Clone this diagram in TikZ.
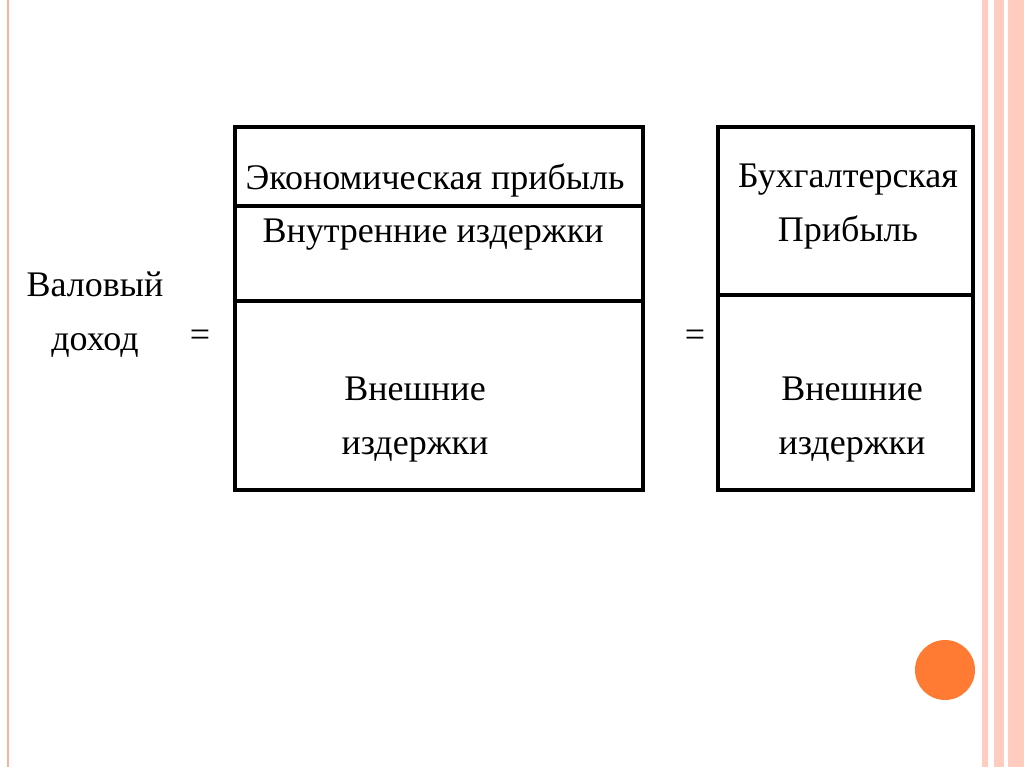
\documentclass[tikz,border=0pt]{standalone}
\usepackage{fontspec}
\setmainfont{Liberation Serif}
\begin{document}
\begin{tikzpicture}[x=1pt, y=-1pt, every node/.style={font=\fontsize{36}{54}\selectfont, align=center}]
    % slide frame
    \useasboundingbox (0,0) rectangle (1024,767);
    \fill[white] (0,0) rectangle (1024,767);
    \draw[orange!50!red!40, line width=2pt] (8,0) -- (8,767);
    \fill[orange!40!red!25] (982,0) rectangle (1024,767);
    \fill[white] (988,0) rectangle (994,767);
    \fill[white] (1004,0) rectangle (1008,767);
    \fill[orange!70!red!80] (945,670) circle (30);

    % left box
    \draw[line width=3.2pt] (235,127) rectangle (643,490);
    \draw[line width=3.2pt] (235,206) -- (643,206);
    \draw[line width=3.2pt] (235,301) -- (643,301);
    \node (econ) at (435,180) {Экономическая прибыль};
    \node (inner) at (433,235) {Внутренние издержки};
    \node (outer1) at (415,420) {Внешние\\издержки};

    % right box
    \draw[line width=3.2pt] (718,127) rectangle (973,490);
    \draw[line width=3.2pt] (718,295) -- (973,295);
    \node (buh) at (848,207) {Бухгалтерская\\Прибыль};
    \node (outer2) at (852,420) {Внешние\\издержки};

    % left side
    \node (gross) at (95,315) {Валовый\\доход};
    \node (eq1) at (200,338) {=};
    \node (eq2) at (695,338) {=};
\end{tikzpicture}
\end{document}
